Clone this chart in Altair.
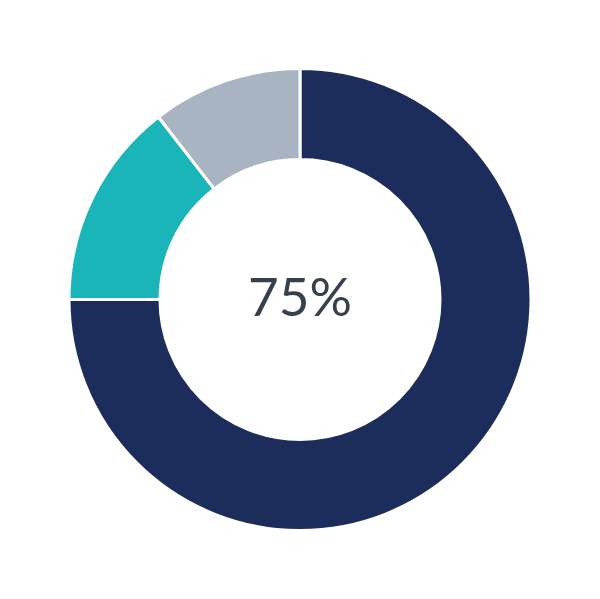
import altair as alt
import pandas as pd

categories = ["A", "B", "C"]
values = [75, 14.5, 10.5]
colors = ["#1c2c5b", "#1ab5b8", "#a9b4c2"]
center_label = ["75%"]

df = pd.DataFrame({"cat": categories, "val": values, "ord": list(range(len(categories)))})

arc = alt.Chart(df).mark_arc(innerRadius=140, outerRadius=231, stroke="white", strokeWidth=3).encode(
    theta=alt.Theta("val:Q", stack=True),
    order=alt.Order("ord:Q"),
    color=alt.Color("cat:N", scale=alt.Scale(domain=categories, range=colors), legend=None),
)

text = alt.Chart(pd.DataFrame({"t": center_label})).mark_text(
    font="Lato", fontSize=53, color="#36414d", align="center", baseline="middle"
).encode(
    text="t:N",
    x=alt.value(292),
    y=alt.value(291.5),
)

chart = alt.layer(arc, text).properties(
    width=584, height=583, padding=0, autosize=alt.AutoSizeParams(type="none")
).configure_view(stroke=None)

chart.save("out.html", embed_options={"renderer": "svg", "actions": False})
